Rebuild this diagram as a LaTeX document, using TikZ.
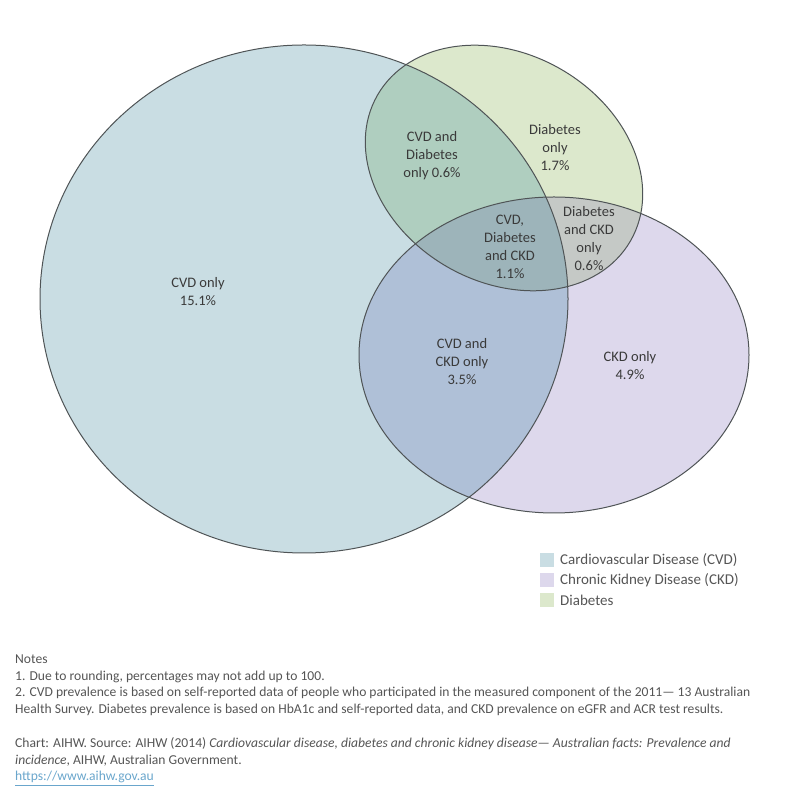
\documentclass[tikz,border=0pt]{standalone}
\usepackage{fontspec}
\setmainfont{Carlito}
\definecolor{cvdfill}{HTML}{C9DDE3}
\definecolor{ckdfill}{HTML}{DDD8EC}
\definecolor{diafill}{HTML}{DCE8CC}
\definecolor{cvddiafill}{HTML}{AFCEBF}
\definecolor{cvdckdfill}{HTML}{AFC0D7}
\definecolor{diackdfill}{HTML}{C5C9C6}
\definecolor{allfill}{HTML}{9DB4BA}
\definecolor{linegrey}{HTML}{4F5456}
\definecolor{textgrey}{HTML}{3A3A3A}
\definecolor{notegrey}{HTML}{555555}
\definecolor{linkblue}{HTML}{6AA6CC}
\begin{document}
\begin{tikzpicture}[x=1pt, y=1pt]
    \tikzset{
        region/.style={font=\fontsize{14.5}{18}\selectfont, text=textgrey, align=center, inner sep=0pt},
        outline/.style={draw=linegrey, line width=1pt},
        keybox/.style={minimum size=14pt, inner sep=0pt, anchor=west},
        keytext/.style={font=\fontsize{15}{16}\selectfont, text=notegrey, anchor=west, inner sep=0pt},
        note/.style={font=\fontsize{13.6}{16}\selectfont, text=notegrey, anchor=base west, inner sep=0pt}
    }
    \def\cvdset{(304,501) ellipse [x radius=264, y radius=254]}
    \def\ckdset{(554,445) ellipse [x radius=195, y radius=158]}
    \def\diaset{(504,632) ellipse [x radius=146, y radius=114, rotate=-30]}

    \useasboundingbox (0,0) rectangle (800,800);

    % base fills
    \fill[cvdfill] \cvdset;
    \fill[ckdfill] \ckdset;
    \fill[diafill] \diaset;

    % overlaps
    \begin{scope}
        \clip \cvdset;
        \fill[cvdckdfill] \ckdset;
        \fill[cvddiafill] \diaset;
    \end{scope}
    \begin{scope}
        \clip \ckdset;
        \fill[diackdfill] \diaset;
    \end{scope}
    \begin{scope}
        \clip \cvdset;
        \clip \ckdset;
        \fill[allfill] \diaset;
    \end{scope}

    % outlines
    \draw[outline] \cvdset;
    \draw[outline] \ckdset;
    \draw[outline] \diaset;

    % region labels
    \node[region] (cvdonly) at (198,508) {CVD only\\15.1\%};
    \node[region] (cvddia)  at (432,644) {CVD and\\Diabetes\\only 0.6\%};
    \node[region] (diaonly) at (555,652) {Diabetes\\only\\1.7\%};
    \node[region] (allthree) at (510,553) {CVD,\\Diabetes\\and CKD\\1.1\%};
    \node[region] (diackd)  at (589,561) {Diabetes\\and CKD\\only\\0.6\%};
    \node[region] (cvdckd)  at (462,438) {CVD and\\CKD only\\3.5\%};
    \node[region] (ckdonly) at (630,434) {CKD only\\4.9\%};

    % legend
    \node[keybox, fill=cvdfill] (keycvd) at (540,240) {};
    \node[keybox, fill=ckdfill] (keyckd) at (540,220) {};
    \node[keybox, fill=diafill] (keydia) at (540,200) {};
    \node[keytext] (labcvd) at (560,240) {Cardiovascular Disease (CVD)};
    \node[keytext] (labckd) at (560,220) {Chronic Kidney Disease (CKD)};
    \node[keytext] (labdia) at (560,200) {Diabetes};

    % notes and source
    \node[note] (notes) at (15,136) {Notes};
    \node[note] (note1) at (15,119) {1. Due to rounding, percentages may not add up to 100.};
    \node[note] (note2) at (15,103) {2. CVD prevalence is based on self-reported data of people who participated in the measured component of the 2011— 13 Australian};
    \node[note] (note3) at (15,86) {Health Survey. Diabetes prevalence is based on HbA1c and self-reported data, and CKD prevalence on eGFR and ACR test results.};
    \node[note] (src1) at (15,52) {Chart: AIHW. Source: AIHW (2014) \textit{Cardiovascular disease, diabetes and chronic kidney disease— Australian facts: Prevalence and}};
    \node[note] (src2) at (15,35) {\textit{incidence}, AIHW, Australian Government.};
    \node[note, text=linkblue] (link) at (15,19) {\underline{https://www.aihw.gov.au}};

\end{tikzpicture}
\end{document}
